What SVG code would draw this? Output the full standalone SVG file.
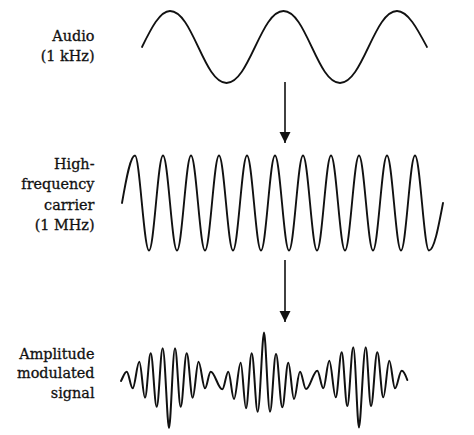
<svg xmlns="http://www.w3.org/2000/svg" width="474" height="435" viewBox="0 0 474 435">
<style>
.lbl{font-family:"DejaVu Serif","Liberation Serif",serif;font-size:14.4px;fill:#111;stroke:#111;stroke-width:0.3;text-anchor:end}
.wave{fill:none;stroke:#111;stroke-linejoin:round;stroke-linecap:round}
.conn{stroke:#111;stroke-width:1.6;fill:none}
</style>
<defs>
<marker id="ah" markerWidth="12" markerHeight="12" viewBox="0 0 12 12" refX="11" refY="6" orient="auto" markerUnits="userSpaceOnUse">
<path d="M0,0.5 L11,6 L0,11.5 Z" fill="#111"/>
</marker>
</defs>
<rect width="474" height="435" fill="#fff"/>
<g id="audio">
<text class="lbl" x="94.5" y="40.5">Audio</text>
<text class="lbl" x="94.5" y="61">(1 kHz)</text>
<path class="wave" stroke-width="1.8" d="M142,47 C151.1,28.6 159.9,11 170,11 C192.7,11 203.8,83 226.5,83 C249.2,83 260.8,11 283.5,11 C306.2,11 317.3,83 340,83 C362.7,83 374.3,11 397,11 C407.9,11 417.2,28.6 427,47"/>
</g>
<g id="carrier">
<text class="lbl" x="94.5" y="168.5">High-</text>
<text class="lbl" x="94.5" y="189">frequency</text>
<text class="lbl" x="94.5" y="209.5">carrier</text>
<text class="lbl" x="94.5" y="230">(1 MHz)</text>
<path class="wave" stroke-width="1.9" d="M122,203 C126.2,178.7 130.3,155.5 135,155.5 S143.9,250.5 149,250.5 S157.9,155.5 163,155.5 S171.9,250.5 177,250.5 S185.9,155.5 191,155.5 S199.9,250.5 205,250.5 S213.9,155.5 219,155.5 S227.9,250.5 233,250.5 S241.9,155.5 247,155.5 S255.9,250.5 261,250.5 S269.9,155.5 275,155.5 S283.9,250.5 289,250.5 S297.9,155.5 303,155.5 S311.9,250.5 317,250.5 S325.9,155.5 331,155.5 S339.9,250.5 345,250.5 S353.9,155.5 359,155.5 S367.9,250.5 373,250.5 S381.9,155.5 387,155.5 S395.9,250.5 401,250.5 S409.9,155.5 415,155.5 S423.9,250.5 429,250.5 S438.4,227.3 443,203"/>
</g>
<g id="am">
<text class="lbl" x="94.5" y="358.5">Amplitude</text>
<text class="lbl" x="94.5" y="378">modulated</text>
<text class="lbl" x="94.5" y="397.5">signal</text>
<path class="wave" stroke-width="2" d="M121,381 C123,377.5 124.5,371.7 126.7,371.7 C128.9,371.7 130.5,388.3 132.7,388.3 C135.1,388.3 136.9,361.7 139.3,361.7 C141.4,361.7 142.9,397.7 145,397.7 C147.1,397.7 148.6,353.3 150.7,353.3 C152.9,353.3 154.5,406.7 156.7,406.7 C158.9,406.7 160.5,348.3 162.7,348.3 C165,348.3 167.2,428 169,428 C170.8,428 172.8,348.3 175,348.3 C177.1,348.3 178.6,406.7 180.7,406.7 C182.9,406.7 184.5,353.3 186.7,353.3 C188.9,353.3 190.5,397.7 192.7,397.7 C194.8,397.7 196.4,361.7 198.5,361.7 C200.9,361.7 202.6,388.3 205,388.3 C207.1,388.3 208.6,371.7 210.7,371.7 C214.9,371.7 218.1,389.3 222.3,389.3 C224.5,389.3 226.1,371.7 228.3,371.7 C230.4,371.7 231.9,399 234,399 C236.4,399 238.3,362.7 240.7,362.7 C242.6,362.7 244.1,408.3 246,408.3 C248.1,408.3 249.6,353.3 251.7,353.3 C253.9,353.3 255.5,411.7 257.7,411.7 C260,411.7 262.2,332.5 264,332.5 C265.8,332.5 267.8,411.7 270,411.7 C272.2,411.7 273.8,354 276,354 C278.3,354 280,407.3 282.3,407.3 C284.5,407.3 286.1,362.7 288.3,362.7 C290.4,362.7 291.9,399 294,399 C296.2,399 297.8,371.7 300,371.7 C302.2,371.7 303.8,389 306,389 C310.1,389 313.2,370.7 317.3,370.7 C319.5,370.7 321.1,388.3 323.3,388.3 C325.5,388.3 327.1,360.7 329.3,360.7 C331.6,360.7 333.4,397.3 335.7,397.3 C337.9,397.3 339.5,352.3 341.7,352.3 C343.7,352.3 345.3,406 347.3,406 C349.5,406 351.1,347.3 353.3,347.3 C355.4,347.3 357.2,427.5 359,427.5 C360.8,427.5 363.3,347.3 365.7,347.3 C367.6,347.3 369.1,406 371,406 C373.3,406 375,352.3 377.3,352.3 C379.5,352.3 381.1,397.3 383.3,397.3 C385.5,397.3 387.1,360.7 389.3,360.7 C391.4,360.7 392.9,388.3 395,388.3 C397.4,388.3 399.3,370.7 401.7,370.7 C403.8,370.7 405.6,375 407.3,380"/>
</g>
<g id="connectors">
<line class="conn" x1="285" y1="82" x2="285" y2="143" marker-end="url(#ah)"/>
<line class="conn" x1="285" y1="260" x2="285" y2="322" marker-end="url(#ah)"/>
</g>
</svg>
